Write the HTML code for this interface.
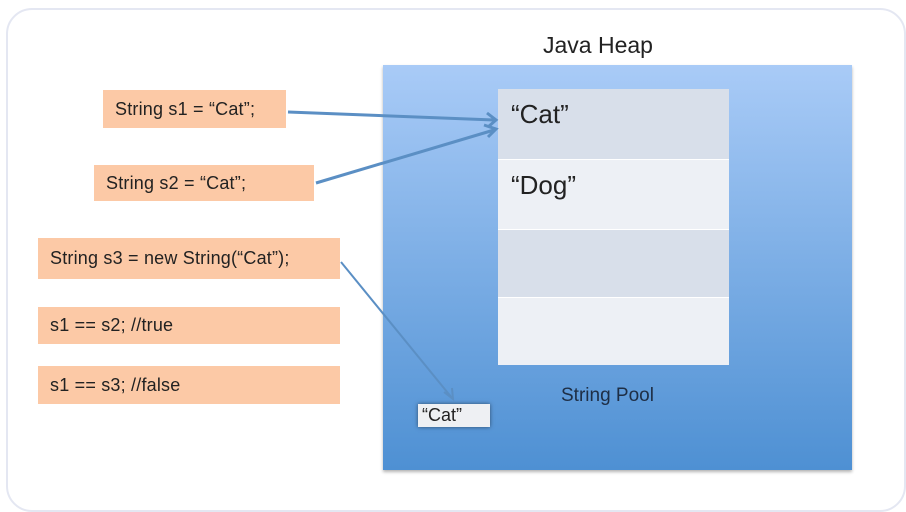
<!DOCTYPE html>
<html><head><style>
body{margin:0;width:906px;height:496px;background:#fff;overflow:hidden;font-family:"Liberation Sans",sans-serif;}
.card{position:absolute;left:6px;top:8px;width:896px;height:500px;border:2px solid #e4e7f2;border-radius:26px;}
.box{position:absolute;background:#fcc9a6;color:#222;font-size:18px;display:flex;align-items:center;padding-left:12px;box-sizing:border-box;letter-spacing:0.2px;white-space:nowrap;}
.heap{position:absolute;left:383px;top:65px;width:469px;height:405px;background:linear-gradient(#a9cbf7,#4e90d3);box-shadow:0 2px 3px rgba(0,0,0,.3);}
.row{position:absolute;left:498px;width:231px;font-size:26px;color:#222;padding:10px 0 0 13px;box-sizing:border-box;}
</style></head><body>
<div class="card"></div>
<div style="position:absolute;left:543px;top:32px;font-size:23px;color:#222">Java Heap</div>
<div class="heap"></div>
<div class="row" style="top:89px;height:70px;background:#d8dfea">“Cat”</div>
<div class="row" style="top:159px;height:70px;background:#edf0f5;border-top:1px solid #fff">“Dog”</div>
<div class="row" style="top:229px;height:68px;background:#d8dfea;border-top:1px solid #fff"></div>
<div class="row" style="top:297px;height:68px;background:#edf0f5;border-top:1px solid #fff"></div>
<div style="position:absolute;left:561px;top:385px;font-size:19px;color:#1e2e45">String Pool</div>
<div style="position:absolute;left:418px;top:404px;width:72px;height:23px;background:#eef0f3;box-shadow:0 0 4px rgba(0,0,0,.5);font-size:18px;color:#222;padding-left:4px;line-height:23px;box-sizing:border-box">“Cat”</div>
<div class="box" style="left:103px;top:90px;width:183px;height:38px">String s1 = “Cat”;</div>
<div class="box" style="left:94px;top:165px;width:220px;height:36px">String s2 = “Cat”;</div>
<div class="box" style="left:38px;top:238px;width:302px;height:41px">String s3 = new String(“Cat”);</div>
<div class="box" style="left:38px;top:307px;width:302px;height:37px">s1 == s2; //true</div>
<div class="box" style="left:38px;top:366px;width:302px;height:38px">s1 == s3; //false</div>
<svg width="906" height="496" style="position:absolute;left:0;top:0">
<g stroke="#5b8fc4" fill="none" stroke-width="3">
<line x1="288" y1="112" x2="494" y2="120"/>
<line x1="316" y1="183" x2="494" y2="130"/>
<polyline points="487,113 496,120 488,127"/>
<polyline points="484,125 496,129 488,137"/>
<line x1="341" y1="262" x2="452" y2="398" stroke-width="2"/>
<polyline points="444,392 453,399 452,388" stroke-width="2"/>
</g>
</svg>
</body></html>
